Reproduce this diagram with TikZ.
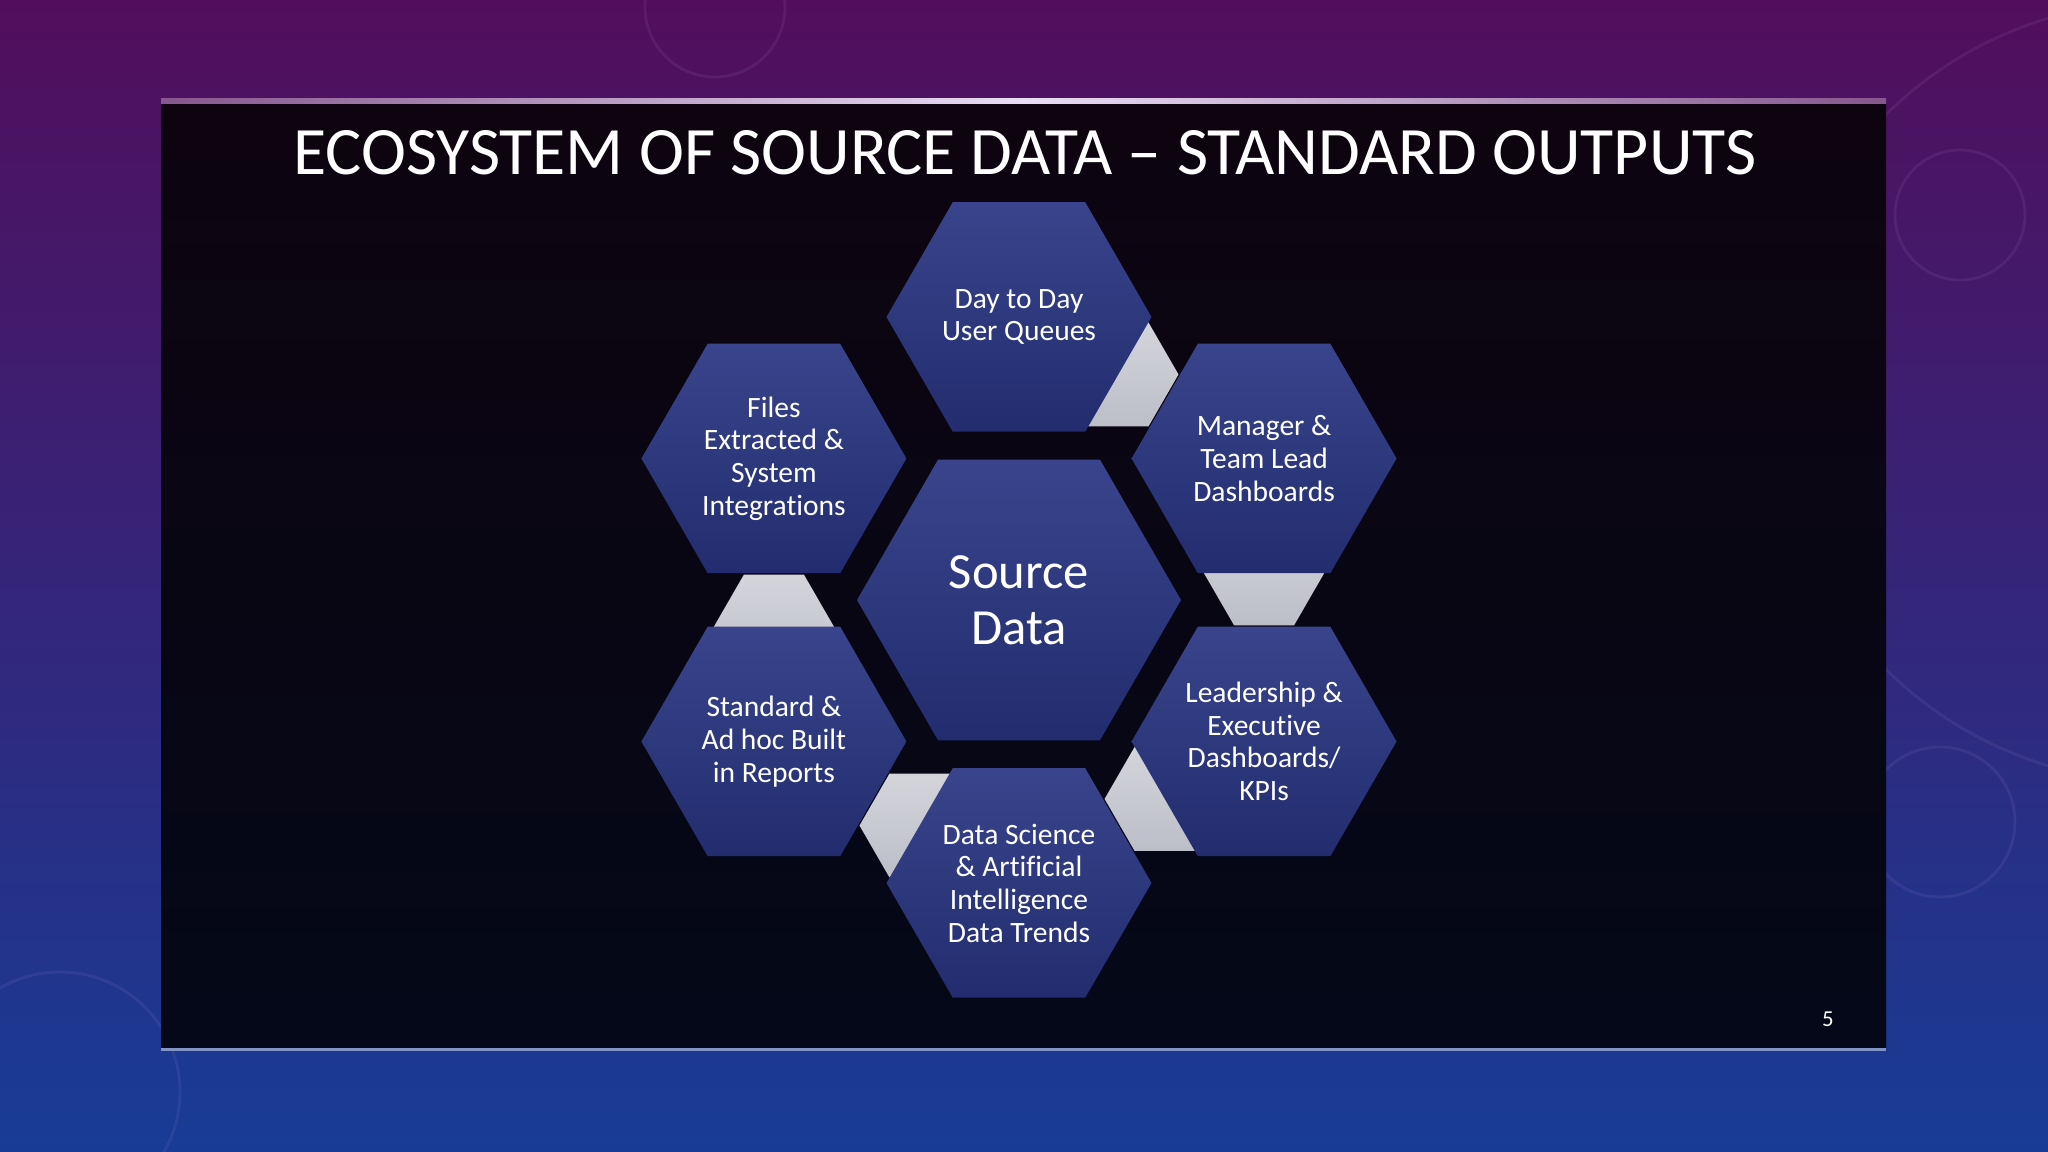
\documentclass[tikz,border=0pt]{standalone}
\usepackage{fontspec}
\setmainfont{Carlito}[Ligatures={TeX,NoCommon}]
\usetikzlibrary{positioning, calc, shapes.geometric}
\definecolor{bgTop}{RGB}{82,14,92}
\definecolor{bgBot}{RGB}{24,60,150}
\definecolor{panelTop}{RGB}{14,4,16}
\definecolor{panelBot}{RGB}{4,8,24}
\definecolor{hexTop}{RGB}{58,68,140}
\definecolor{hexBot}{RGB}{34,44,110}
\definecolor{linkTop}{RGB}{212,213,219}
\definecolor{linkBot}{RGB}{188,190,200}
\definecolor{ringCol}{RGB}{200,170,230}
\pgfdeclarelayer{back}
\pgfdeclarelayer{links}
\pgfsetlayers{back,links,main}
\tikzstyle{hexa} = [regular polygon, regular polygon sides=6, minimum size=2.65cm, inner sep=0pt, top color=hexTop, bottom color=hexBot, draw=none, text=white, align=center, font=\fontsize{8.4pt}{9.3pt}\selectfont]
\tikzstyle{core} = [hexa, minimum size=3.24cm, font=\fontsize{14.4pt}{16pt}\selectfont]
\tikzstyle{link} = [regular polygon, regular polygon sides=6, minimum size=1.2cm, inner sep=0pt, top color=linkTop, bottom color=linkBot, draw=none]
\tikzstyle{ring} = [draw=ringCol, line width=0.8pt, opacity=0.09]
\begin{document}
\begin{tikzpicture}[node distance=2.83cm]
        \useasboundingbox (0,0) rectangle (20.48,11.52);

        % Background
        \begin{pgfonlayer}{back}
        \shade[top color=bgTop, bottom color=bgBot] (0,0) rectangle (20.48,11.52);
        \draw[ring] (7.15,11.45) circle (0.7);
        \draw[ring] (19.6,9.37) circle (0.65);
        \draw[ring] (19.4,3.3) circle (0.75);
        \draw[ring] (0.6,0.6) circle (1.2);
        \draw[ring] (21.6,7.6) circle (3.9);
        \shade[top color=panelTop, bottom color=panelBot] (1.61,1.03) rectangle (18.86,10.50);
        \shade[left color=bgTop!70!white, right color=bgTop!70!white, middle color=white!60!ringCol] (1.61,10.48) rectangle (18.86,10.53);
        \fill[bgBot!55!white] (1.61,1.01) rectangle (18.86,1.035);
        \end{pgfonlayer}

        % Nodes
        \node (title) at (10.25,9.99) [text=white, font=\fontsize{19.3pt}{20pt}\selectfont] {ECOSYSTEM OF SOURCE DATA – STANDARD OUTPUTS};
        \node (src) at (10.19,5.52) [core] {Source\\Data};
        \node (day) [hexa, above of=src] {Day to Day\\User Queues};
        \node (mgr) at ($(src)+(30:2.83)$) [hexa] {Manager \&\\Team Lead\\Dashboards};
        \node (lead) at ($(src)+(-30:2.83)$) [hexa] {Leadership \&\\Executive\\Dashboards/\\KPIs};
        \node (dsci) [hexa, below of=src] {Data Science\\\& Artificial\\Intelligence\\Data Trends};
        \node (std) at ($(src)+(210:2.83)$) [hexa] {Standard \&\\Ad hoc Built\\in Reports};
        \node (files) at ($(src)+(150:2.83)$) [hexa] {Files\\Extracted \&\\System\\Integrations};
        \node (pagenum) at (18.28,1.33) [text=white, font=\fontsize{6.5pt}{7pt}\selectfont] {5};

        % Links
        \begin{pgfonlayer}{links}
        \node (dayMgr) at ($(day)!0.406!(mgr)$) [link] {};
        \node (mgrLead) at ($(mgr)!0.406!(lead)$) [link] {};
        \node (leadDsci) at ($(lead)!0.406!(dsci)$) [link] {};
        \node (dsciStd) at ($(dsci)!0.406!(std)$) [link] {};
        \node (stdFiles) at ($(std)!0.406!(files)$) [link] {};
        \end{pgfonlayer}

\end{tikzpicture}
\end{document}
